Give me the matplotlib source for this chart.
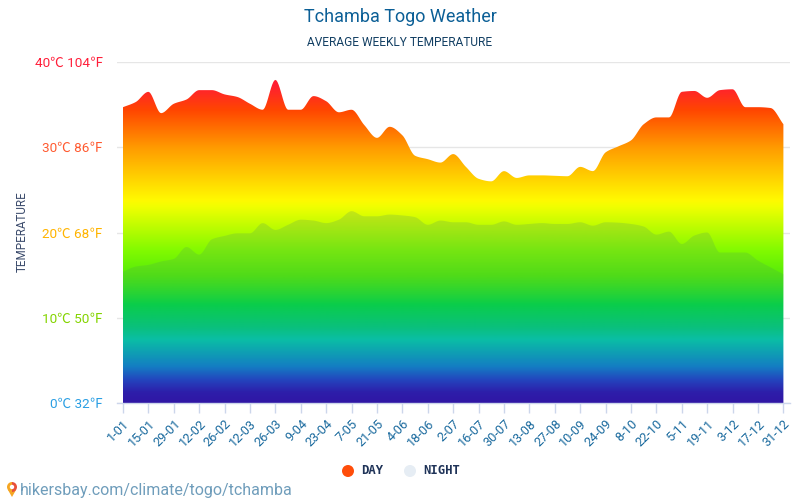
import matplotlib
matplotlib.use("Agg")
import matplotlib.pyplot as plt
import numpy as np
from matplotlib.colors import LinearSegmentedColormap
from matplotlib.patches import Polygon, Circle, Wedge

# weekly temperatures in C
day = [34.7, 35.3, 36.5, 34.0, 35.1, 35.6, 36.7, 36.7, 36.2, 35.9, 35.1, 34.4, 37.9,
       34.4, 34.4, 36.0, 35.4, 34.1, 34.4, 32.6, 31.1, 32.4, 31.4, 29.0, 28.6, 28.2,
       29.2, 27.7, 26.3, 26.0, 27.2, 26.4, 26.7, 26.7, 26.65, 26.6, 27.7, 27.2, 29.4,
       30.1, 30.8, 32.7, 33.5, 33.5, 36.5, 36.6, 35.8, 36.7, 36.8, 34.7, 34.7, 34.6, 32.7]
night = [15.4, 16.0, 16.2, 16.6, 16.9, 18.3, 17.4, 19.2, 19.6, 19.9, 19.9, 21.1, 20.3,
         20.9, 21.5, 21.4, 21.1, 21.5, 22.5, 21.9, 21.9, 22.1, 22.0, 21.8, 20.9, 21.4,
         21.2, 21.2, 20.9, 20.9, 21.3, 20.9, 21.0, 21.1, 21.0, 21.0, 21.2, 20.8, 21.2,
         21.15, 21.0, 20.7, 19.75, 20.1, 18.65, 19.65, 20.0, 17.65, 17.65, 17.65, 16.7, 15.9, 15.1]
tick_labels = ["1-01", "15-01", "29-01", "12-02", "26-02", "12-03", "26-03", "9-04", "23-04",
               "7-05", "21-05", "4-06", "18-06", "2-07", "16-07", "30-07", "13-08", "27-08",
               "10-09", "24-09", "8-10", "22-10", "5-11", "19-11", "3-12", "17-12", "31-12"]
y_ticks = [0, 10, 20, 30, 40]
y_labels = ["0℃ 32℉", "10℃ 50℉", "20℃ 68℉", "30℃ 86℉", "40℃ 104℉"]
y_colors = ["#2b9fe3", "#84d400", "#ffb400", "#ff5a30", "#ff1f3a"]

# gradient stops (temperature, colour)
stops = [(0.0, (48, 22, 165)), (1.2, (45, 30, 170)), (2.7, (35, 70, 190)), (4.2, (20, 125, 195)),
         (7.4, (10, 190, 165)), (8.8, (10, 192, 125)), (11.5, (10, 205, 75)), (15.0, (85, 235, 10)),
         (17.9, (130, 250, 0)), (23.0, (240, 255, 0)), (23.8, (255, 250, 0)), (30.0, (255, 155, 0)),
         (34.4, (255, 70, 0)), (37.3, (255, 30, 50)), (40.0, (255, 20, 60))]
# how strong the night veil is at each temperature
veil_t = [11.5, 15.0, 23.0]
veil_a = [0.0, 0.15, 0.20]


def smooth(y, n=12):
    # monotone cubic between the weekly points, flat at every peak and dip
    y = np.array(y)
    d = np.diff(y)
    m = np.zeros(len(y))
    for i in range(1, len(y) - 1):
        if d[i - 1] * d[i] > 0:
            m[i] = 2 * d[i - 1] * d[i] / (d[i - 1] + d[i])
    m[0], m[-1] = d[0], d[-1]
    xs, ys = [], []
    t = np.linspace(0, 1, n, endpoint=False)
    for i in range(len(y) - 1):
        ys.append((2*t**3 - 3*t**2 + 1)*y[i] + (t**3 - 2*t**2 + t)*m[i]
                  + (-2*t**3 + 3*t**2)*y[i + 1] + (t**3 - t**2)*m[i + 1])
        xs.append(i + t)
    return np.append(np.concatenate(xs), len(y) - 1), np.append(np.concatenate(ys), y[-1])


plt.rcParams["font.family"] = ["Roboto", "Noto Sans CJK SC", "DejaVu Sans"]
fig = plt.figure(figsize=(8, 5), dpi=100)
step = 12.7
x0 = (117 - 123) / step
x1 = (790 - 123) / step
ax = fig.add_axes([117 / 800, 1 - 403 / 500, 673 / 800, 341 / 500])

cmap = LinearSegmentedColormap.from_list("temp", [(s[0] / 40, tuple(c / 255 for c in s[1])) for s in stops])
sx, sy = smooth(day)
poly = Polygon(np.vstack([[0, 0], np.column_stack([sx, sy]), [len(day) - 1, 0]]), closed=True,
               facecolor="none", edgecolor="none", transform=ax.transData)
ax.add_patch(poly)
img = ax.imshow(np.linspace(0, 1, 512)[::-1].reshape(-1, 1), cmap=cmap, aspect="auto",
                extent=[0, len(day) - 1, 0, 40], zorder=2, vmin=0, vmax=1)
img.set_clip_path(poly)

# night area sits on top as a faint dull veil that fades out downwards
nx, ny = smooth(night)
npoly = Polygon(np.vstack([[0, 0], np.column_stack([nx, ny]), [len(night) - 1, 0]]), closed=True,
                facecolor="none", edgecolor="none", transform=ax.transData)
ax.add_patch(npoly)
temps = np.linspace(0, 40, 512)
veil = np.zeros((512, 1, 4))
veil[..., :3] = (60 / 255, 130 / 255, 110 / 255)
veil[:, 0, 3] = np.interp(temps, veil_t, veil_a)
nimg = ax.imshow(veil, origin="lower", aspect="auto", extent=[0, len(night) - 1, 0, 40], zorder=3)
nimg.set_clip_path(npoly)
ax.set_xlim(x0, x1)
ax.set_ylim(0, 40)

for s in ["top", "left", "right"]:
    ax.spines[s].set_visible(False)
ax.spines["bottom"].set_color("#ccd6eb")
ax.spines["bottom"].set_linewidth(1)
ax.set_axisbelow(True)
ax.grid(axis="y", color="#e6e6e6", linewidth=1, zorder=0)

ax.set_yticks(y_ticks)
ax.set_yticklabels(y_labels, fontsize=9.7)
ax.tick_params(axis="y", length=0, pad=10)
for lab, c in zip(ax.get_yticklabels(), y_colors):
    lab.set_color(c)

ax.set_xticks(np.arange(0, len(day), 2))
ax.set_xticklabels(tick_labels, rotation=45, ha="right", rotation_mode="anchor", fontsize=9.2, color="#1a6a9e")
ax.tick_params(axis="x", length=7, width=1, color="#ccd6eb", pad=3)

fig.text(400 / 800, 1 - 17 / 500, "Tchamba Togo Weather", ha="center", va="center", fontsize=13, color="#0b5f96")
fig.text(400 / 800, 1 - 42 / 500, "AVERAGE WEEKLY TEMPERATURE", ha="center", va="center", fontsize=8.6, color="#123f63")
fig.text(22 / 800, 1 - 232 / 500, "TEMPERATURE", rotation=90, ha="center", va="center", fontsize=8.4, color="#3a4a6b")

# legend
fig.add_artist(Circle((348, 500 - 471), 6, transform=None, facecolor="#ff4d0a", edgecolor="none"))
fig.text(361 / 800, 1 - 471 / 500, "DAY", ha="left", va="center", fontsize=8.8, fontweight="bold",
         family="DejaVu Sans Mono", color="#1f3358")
fig.add_artist(Circle((410, 500 - 471), 6, transform=None, facecolor="#e6edf4", edgecolor="none"))
fig.text(423 / 800, 1 - 471 / 500, "NIGHT", ha="left", va="center", fontsize=8.8, fontweight="bold",
         family="DejaVu Sans Mono", color="#1f3358")

# footer with the pin
fig.add_artist(Polygon([(8, 500 - 490), (16, 500 - 490), (12, 500 - 497)], transform=None, facecolor="#f5a623", edgecolor="none"))
fig.add_artist(Wedge((12, 500 - 487), 5, 90, 270, transform=None, facecolor="#f5a623", edgecolor="none"))
fig.add_artist(Wedge((12, 500 - 487), 5, -90, 90, transform=None, facecolor="#e8503a", edgecolor="none"))
fig.add_artist(Circle((12, 500 - 487), 2.2, transform=None, facecolor="white", edgecolor="none"))
fig.text(20 / 800, 1 - 490 / 500, "hikersbay.com/climate/togo/tchamba", ha="left", va="center",
         fontsize=11.5, color="#6f9dbb")

fig.savefig("out.png", dpi=100)
